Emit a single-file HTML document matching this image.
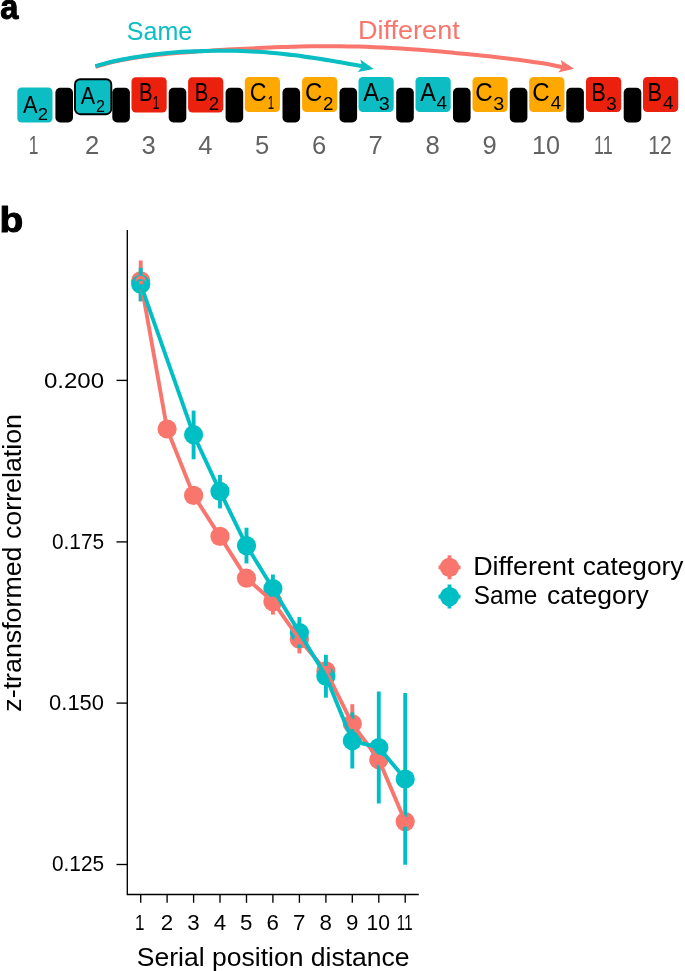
<!DOCTYPE html>
<html lang="en"><head><meta charset="utf-8"><title>Figure</title>
<style>html,body{margin:0;padding:0;background:#fff}svg{display:block}text{font-family:"Liberation Sans",sans-serif}</style>
</head><body>
<svg width="685" height="971" viewBox="0 0 685 971">
<rect x="0" y="0" width="685" height="971" fill="#ffffff"/>
<text x="0.22" y="18.85" font-size="35.5" font-weight="bold" fill="#000" textLength="18.19" lengthAdjust="spacingAndGlyphs" stroke="#000" stroke-width="1" stroke-linejoin="round">a</text>
<path d="M95.6 66.8 C97.6 66.2 103.6 64.3 107.6 63.3 C111.6 62.2 115.6 61.3 119.6 60.5 C123.6 59.6 127.6 58.9 131.6 58.2 C135.5 57.6 139.5 57.0 143.5 56.5 C147.5 55.9 151.5 55.5 155.5 55.0 C159.5 54.6 163.5 54.2 167.5 53.8 C171.5 53.5 175.5 53.1 179.5 52.8 C183.5 52.5 187.5 52.2 191.5 51.9 C195.5 51.6 199.5 51.3 203.5 51.1 C207.5 50.8 211.5 50.6 215.4 50.3 C219.4 50.1 223.4 49.9 227.4 49.6 C231.4 49.4 235.4 49.2 239.4 49.0 C243.4 48.8 247.4 48.6 251.4 48.4 C255.4 48.2 259.4 48.0 263.4 47.8 C267.4 47.6 271.4 47.5 275.4 47.3 C279.4 47.2 283.4 47.0 287.4 46.9 C291.3 46.8 295.3 46.7 299.3 46.6 C303.3 46.5 307.3 46.4 311.3 46.3 C315.3 46.3 319.3 46.2 323.3 46.2 C327.3 46.2 331.3 46.2 335.3 46.2 C339.3 46.3 343.3 46.3 347.3 46.4 C351.3 46.4 355.3 46.5 359.3 46.6 C363.3 46.7 367.3 46.9 371.2 47.0 C375.2 47.2 379.2 47.4 383.2 47.5 C387.2 47.7 391.2 47.9 395.2 48.2 C399.2 48.4 403.2 48.7 407.2 48.9 C411.2 49.2 415.2 49.5 419.2 49.8 C423.2 50.1 427.2 50.4 431.2 50.7 C435.2 51.1 439.2 51.4 443.2 51.8 C447.1 52.1 451.1 52.5 455.1 52.9 C459.1 53.2 463.1 53.6 467.1 54.0 C471.1 54.4 475.1 54.8 479.1 55.3 C483.1 55.7 487.1 56.1 491.1 56.6 C495.1 57.0 499.1 57.5 503.1 57.9 C507.1 58.4 511.1 58.9 515.1 59.4 C519.1 59.9 523.1 60.5 527.0 61.0 C531.0 61.6 535.0 62.2 539.0 62.8 C543.0 63.4 547.0 64.1 551.0 64.8 C555.0 65.6 561.0 66.8 563.0 67.2" fill="none" stroke="#F8766D" stroke-width="4.0"/>
<path d="M574.2 68.8 L558.1 72.4 L562.6 66.9 L560.7 59.9 Z" fill="#F8766D"/>
<path d="M95.3 66.1 C97.2 65.6 103.0 63.9 106.9 62.9 C110.8 62.0 114.7 61.1 118.5 60.3 C122.4 59.5 126.3 58.7 130.2 58.0 C134.0 57.4 137.9 56.7 141.8 56.2 C145.6 55.6 149.5 55.1 153.4 54.6 C157.3 54.1 161.1 53.7 165.0 53.3 C168.9 53.0 172.7 52.6 176.6 52.3 C180.5 52.0 184.4 51.8 188.2 51.6 C192.1 51.4 196.0 51.2 199.9 51.1 C203.7 50.9 207.6 50.8 211.5 50.8 C215.3 50.7 219.2 50.7 223.1 50.7 C227.0 50.7 230.8 50.7 234.7 50.8 C238.6 50.9 242.5 51.0 246.3 51.2 C250.2 51.4 254.1 51.6 257.9 51.8 C261.8 52.1 265.7 52.3 269.6 52.7 C273.4 53.0 277.3 53.3 281.2 53.7 C285.1 54.1 288.9 54.6 292.8 55.0 C296.7 55.5 300.5 56.0 304.4 56.6 C308.3 57.1 312.2 57.7 316.0 58.3 C319.9 58.9 323.8 59.5 327.6 60.1 C331.5 60.8 335.4 61.5 339.3 62.1 C343.1 62.8 347.0 63.5 350.9 64.2 C354.8 64.9 360.6 66.0 362.5 66.3" fill="none" stroke="#0BBEC3" stroke-width="4.1"/>
<path d="M373.8 69.1 L357.8 72.0 L362.2 66.6 L360.3 59.5 Z" fill="#0BBEC3"/>
<text x="126.77" y="39.90" font-size="25" fill="#0BBEC3" textLength="65.49" lengthAdjust="spacingAndGlyphs">Same</text>
<text x="358.04" y="38.90" font-size="25" fill="#F8766D" textLength="101.63" lengthAdjust="spacingAndGlyphs">Different</text>
<rect x="17.3" y="87.4" width="35.2" height="35.2" rx="4.3" fill="#0CBEC4"/>
<text x="23.10" y="113.10" font-size="24.4" fill="#000" textLength="14.54" lengthAdjust="spacingAndGlyphs">A</text>
<text x="37.88" y="120.40" font-size="17.4" fill="#000" textLength="10.27" lengthAdjust="spacingAndGlyphs">2</text>
<text x="28.69" y="154.20" font-size="25.6" fill="#626262" textLength="9.72" lengthAdjust="spacingAndGlyphs">1</text>
<rect x="75.0" y="79.2" width="36.3" height="35.0" rx="5.2" fill="#0CBEC4" stroke="#000" stroke-width="1.9"/>
<text x="80.80" y="103.90" font-size="24.4" fill="#000" textLength="14.34" lengthAdjust="spacingAndGlyphs">A</text>
<text x="96.00" y="112.00" font-size="17.4" fill="#000" textLength="8.92" lengthAdjust="spacingAndGlyphs">2</text>
<text x="85.05" y="154.20" font-size="25.6" fill="#626262">2</text>
<rect x="131.5" y="77.2" width="35.2" height="35.2" rx="4.3" fill="#EB210E"/>
<text x="138.97" y="101.30" font-size="25.2" fill="#000" textLength="13.59" lengthAdjust="spacingAndGlyphs">B</text>
<text x="152.70" y="109.40" font-size="18.0" fill="#000" textLength="6.65" lengthAdjust="spacingAndGlyphs">1</text>
<text x="141.60" y="154.20" font-size="25.6" fill="#626262">3</text>
<rect x="188.1" y="77.2" width="35.2" height="35.2" rx="4.3" fill="#EB210E"/>
<text x="194.87" y="101.30" font-size="25.2" fill="#000" textLength="13.59" lengthAdjust="spacingAndGlyphs">B</text>
<text x="208.67" y="109.60" font-size="18.0" fill="#000" textLength="10.39" lengthAdjust="spacingAndGlyphs">2</text>
<text x="198.26" y="154.20" font-size="25.6" fill="#626262">4</text>
<rect x="244.8" y="76.9" width="35.2" height="35.2" rx="4.3" fill="#FFA800"/>
<text x="249.64" y="101.30" font-size="25.2" fill="#000" textLength="16.72" lengthAdjust="spacingAndGlyphs">C</text>
<text x="267.64" y="109.40" font-size="18.0" fill="#000" textLength="6.39" lengthAdjust="spacingAndGlyphs">1</text>
<text x="254.90" y="154.20" font-size="25.6" fill="#626262">5</text>
<rect x="302.1" y="76.9" width="35.2" height="35.2" rx="4.3" fill="#FFA800"/>
<text x="305.10" y="101.30" font-size="25.2" fill="#000" textLength="17.29" lengthAdjust="spacingAndGlyphs">C</text>
<text x="322.97" y="109.60" font-size="18.0" fill="#000" textLength="10.39" lengthAdjust="spacingAndGlyphs">2</text>
<text x="312.07" y="154.20" font-size="25.6" fill="#626262">6</text>
<rect x="358.5" y="76.9" width="35.2" height="35.2" rx="4.3" fill="#0CBEC4"/>
<text x="363.20" y="101.30" font-size="25.2" fill="#000" textLength="15.75" lengthAdjust="spacingAndGlyphs">A</text>
<text x="378.81" y="109.60" font-size="18.0" fill="#000" textLength="11.01" lengthAdjust="spacingAndGlyphs">3</text>
<text x="368.60" y="154.20" font-size="25.6" fill="#626262">7</text>
<rect x="415.5" y="76.9" width="35.2" height="35.2" rx="4.3" fill="#0CBEC4"/>
<text x="420.30" y="101.30" font-size="25.2" fill="#000" textLength="15.55" lengthAdjust="spacingAndGlyphs">A</text>
<text x="436.42" y="109.40" font-size="18.0" fill="#000" textLength="10.47" lengthAdjust="spacingAndGlyphs">4</text>
<text x="425.60" y="154.20" font-size="25.6" fill="#626262">8</text>
<rect x="472.5" y="76.9" width="35.2" height="35.2" rx="4.3" fill="#FFA800"/>
<text x="475.20" y="101.30" font-size="25.2" fill="#000" textLength="17.40" lengthAdjust="spacingAndGlyphs">C</text>
<text x="493.31" y="109.60" font-size="18.0" fill="#000" textLength="11.01" lengthAdjust="spacingAndGlyphs">3</text>
<text x="482.60" y="154.20" font-size="25.6" fill="#626262">9</text>
<rect x="529.2" y="76.9" width="35.2" height="35.2" rx="4.3" fill="#FFA800"/>
<text x="532.20" y="101.30" font-size="25.2" fill="#000" textLength="17.40" lengthAdjust="spacingAndGlyphs">C</text>
<text x="550.72" y="109.40" font-size="18.0" fill="#000" textLength="10.47" lengthAdjust="spacingAndGlyphs">4</text>
<text x="532.01" y="154.20" font-size="25.6" fill="#626262" textLength="28.03" lengthAdjust="spacingAndGlyphs">10</text>
<rect x="586.0" y="76.9" width="35.2" height="35.2" rx="4.3" fill="#EB210E"/>
<text x="591.25" y="101.30" font-size="25.2" fill="#000" textLength="14.59" lengthAdjust="spacingAndGlyphs">B</text>
<text x="606.03" y="109.60" font-size="18.0" fill="#000" textLength="10.77" lengthAdjust="spacingAndGlyphs">3</text>
<text x="594.06" y="154.20" font-size="25.6" fill="#626262" textLength="18.61" lengthAdjust="spacingAndGlyphs">11</text>
<rect x="643.0" y="76.9" width="35.2" height="35.2" rx="4.3" fill="#EB210E"/>
<text x="647.45" y="101.30" font-size="25.2" fill="#000" textLength="14.59" lengthAdjust="spacingAndGlyphs">B</text>
<text x="662.92" y="109.40" font-size="18.0" fill="#000" textLength="10.58" lengthAdjust="spacingAndGlyphs">4</text>
<text x="648.22" y="154.20" font-size="25.6" fill="#626262" textLength="23.49" lengthAdjust="spacingAndGlyphs">12</text>
<rect x="55.4" y="87.8" width="17.6" height="34.7" rx="4.8" fill="#000"/>
<rect x="112.3" y="87.8" width="17.6" height="34.7" rx="4.8" fill="#000"/>
<rect x="168.7" y="87.8" width="17.6" height="34.7" rx="4.8" fill="#000"/>
<rect x="225.6" y="87.8" width="17.6" height="34.7" rx="4.8" fill="#000"/>
<rect x="282.5" y="87.8" width="17.6" height="34.7" rx="4.8" fill="#000"/>
<rect x="339.5" y="87.8" width="17.6" height="34.7" rx="4.8" fill="#000"/>
<rect x="396.2" y="87.8" width="17.6" height="34.7" rx="4.8" fill="#000"/>
<rect x="453.0" y="87.8" width="17.6" height="34.7" rx="4.8" fill="#000"/>
<rect x="509.8" y="87.8" width="17.6" height="34.7" rx="4.8" fill="#000"/>
<rect x="566.3" y="87.8" width="17.6" height="34.7" rx="4.8" fill="#000"/>
<rect x="623.7" y="87.8" width="17.6" height="34.7" rx="4.8" fill="#000"/>
<text x="-0.54" y="231.95" font-size="34.9" font-weight="bold" fill="#000" textLength="23.83" lengthAdjust="spacingAndGlyphs" stroke="#000" stroke-width="1" stroke-linejoin="round">b</text>
<path d="M127.3 230 V894.5 H418.8" fill="none" stroke="#000" stroke-width="1.35"/>
<path d="M116.5 380.4 H127.3" stroke="#000" stroke-width="1.35"/>
<text x="43.94" y="387.60" font-size="22.3" fill="#000" textLength="60.16" lengthAdjust="spacingAndGlyphs">0.200</text>
<path d="M116.5 541.9 H127.3" stroke="#000" stroke-width="1.35"/>
<text x="51.97" y="548.60" font-size="22.3" fill="#000" textLength="52.12" lengthAdjust="spacingAndGlyphs">0.175</text>
<path d="M116.5 703.1 H127.3" stroke="#000" stroke-width="1.35"/>
<text x="49.12" y="709.60" font-size="22.3" fill="#000" textLength="54.90" lengthAdjust="spacingAndGlyphs">0.150</text>
<path d="M116.5 864.5 H127.3" stroke="#000" stroke-width="1.35"/>
<text x="51.97" y="871.10" font-size="22.3" fill="#000" textLength="52.12" lengthAdjust="spacingAndGlyphs">0.125</text>
<path d="M140.7 894.5 V902.8" stroke="#000" stroke-width="1.35"/>
<text x="135.12" y="929.80" font-size="22.3" fill="#000" textLength="9.46" lengthAdjust="spacingAndGlyphs">1</text>
<path d="M167.1 894.5 V902.8" stroke="#000" stroke-width="1.35"/>
<text x="160.76" y="929.80" font-size="22.3" fill="#000">2</text>
<path d="M193.6 894.5 V902.8" stroke="#000" stroke-width="1.35"/>
<text x="187.21" y="929.80" font-size="22.3" fill="#000">3</text>
<path d="M220.0 894.5 V902.8" stroke="#000" stroke-width="1.35"/>
<text x="213.72" y="929.80" font-size="22.3" fill="#000">4</text>
<path d="M246.5 894.5 V902.8" stroke="#000" stroke-width="1.35"/>
<text x="240.11" y="929.80" font-size="22.3" fill="#000">5</text>
<path d="M272.9 894.5 V902.8" stroke="#000" stroke-width="1.35"/>
<text x="266.45" y="929.80" font-size="22.3" fill="#000">6</text>
<path d="M299.4 894.5 V902.8" stroke="#000" stroke-width="1.35"/>
<text x="293.01" y="929.80" font-size="22.3" fill="#000">7</text>
<path d="M325.9 894.5 V902.8" stroke="#000" stroke-width="1.35"/>
<text x="319.46" y="929.80" font-size="22.3" fill="#000">8</text>
<path d="M352.3 894.5 V902.8" stroke="#000" stroke-width="1.35"/>
<text x="345.91" y="929.80" font-size="22.3" fill="#000">9</text>
<path d="M378.8 894.5 V902.8" stroke="#000" stroke-width="1.35"/>
<text x="366.52" y="929.80" font-size="22.3" fill="#000" textLength="23.47" lengthAdjust="spacingAndGlyphs">10</text>
<path d="M405.2 894.5 V902.8" stroke="#000" stroke-width="1.35"/>
<text x="396.87" y="929.80" font-size="22.3" fill="#000" textLength="15.66" lengthAdjust="spacingAndGlyphs">11</text>
<text x="136.81" y="966.20" font-size="25.5" fill="#000" textLength="272.83" lengthAdjust="spacingAndGlyphs">Serial position distance</text>
<text transform="translate(21.4 711.67) rotate(-90)" font-size="25.5" fill="#000" textLength="297.63" lengthAdjust="spacingAndGlyphs">z-transformed correlation</text>
<path d="M140.7 260.5 V301.1" stroke="#F8766D" stroke-width="3.9"/>
<circle cx="140.7" cy="280.8" r="9.6" fill="#F8766D"/>
<path d="M167.1 424.0 V434.0" stroke="#F8766D" stroke-width="3.9"/>
<circle cx="167.1" cy="429.0" r="9.6" fill="#F8766D"/>
<path d="M193.6 490.0 V501.0" stroke="#F8766D" stroke-width="3.9"/>
<circle cx="193.6" cy="495.4" r="9.6" fill="#F8766D"/>
<path d="M220.0 531.0 V542.0" stroke="#F8766D" stroke-width="3.9"/>
<circle cx="220.0" cy="536.4" r="9.6" fill="#F8766D"/>
<path d="M246.5 572.0 V584.0" stroke="#F8766D" stroke-width="3.9"/>
<circle cx="246.5" cy="578.2" r="9.6" fill="#F8766D"/>
<path d="M272.9 588.6 V614.6" stroke="#F8766D" stroke-width="3.9"/>
<circle cx="272.9" cy="601.6" r="9.6" fill="#F8766D"/>
<path d="M299.4 624.8 V653.4" stroke="#F8766D" stroke-width="3.9"/>
<circle cx="299.4" cy="639.2" r="9.6" fill="#F8766D"/>
<path d="M325.9 662.0 V680.0" stroke="#F8766D" stroke-width="3.9"/>
<circle cx="325.9" cy="670.9" r="9.6" fill="#F8766D"/>
<path d="M352.3 704.2 V743.4" stroke="#F8766D" stroke-width="3.9"/>
<circle cx="352.3" cy="723.8" r="9.6" fill="#F8766D"/>
<path d="M378.8 752.0 V768.0" stroke="#F8766D" stroke-width="3.9"/>
<circle cx="378.8" cy="759.7" r="9.6" fill="#F8766D"/>
<path d="M405.2 812.0 V830.0" stroke="#F8766D" stroke-width="3.9"/>
<circle cx="405.2" cy="821.6" r="9.6" fill="#F8766D"/>
<path d="M140.7 267.8 V301.4" stroke="#00BFC4" stroke-width="3.9"/>
<circle cx="140.7" cy="284.3" r="9.6" fill="#00BFC4"/>
<path d="M193.6 410.6 V459.3" stroke="#00BFC4" stroke-width="3.9"/>
<circle cx="193.6" cy="434.7" r="9.6" fill="#00BFC4"/>
<path d="M220.0 474.8 V508.4" stroke="#00BFC4" stroke-width="3.9"/>
<circle cx="220.0" cy="491.4" r="9.6" fill="#00BFC4"/>
<path d="M246.5 527.7 V563.4" stroke="#00BFC4" stroke-width="3.9"/>
<circle cx="246.5" cy="545.6" r="9.6" fill="#00BFC4"/>
<path d="M272.9 574.5 V603.0" stroke="#00BFC4" stroke-width="3.9"/>
<circle cx="272.9" cy="588.5" r="9.6" fill="#00BFC4"/>
<path d="M299.4 617.1 V648.0" stroke="#00BFC4" stroke-width="3.9"/>
<circle cx="299.4" cy="632.6" r="9.6" fill="#00BFC4"/>
<path d="M325.9 654.8 V697.7" stroke="#00BFC4" stroke-width="3.9"/>
<circle cx="325.9" cy="676.2" r="9.6" fill="#00BFC4"/>
<path d="M352.3 712.4 V768.5" stroke="#00BFC4" stroke-width="3.9"/>
<circle cx="352.3" cy="740.8" r="9.6" fill="#00BFC4"/>
<path d="M378.8 691.5 V803.5" stroke="#00BFC4" stroke-width="3.9"/>
<circle cx="378.8" cy="747.5" r="9.6" fill="#00BFC4"/>
<path d="M405.2 693.1 V864.7" stroke="#00BFC4" stroke-width="3.9"/>
<circle cx="405.2" cy="779.0" r="9.6" fill="#00BFC4"/>
<circle cx="140.7" cy="280.8" r="5.2" fill="#F8766D"/>
<circle cx="167.1" cy="429.0" r="5.2" fill="#F8766D"/>
<circle cx="193.6" cy="495.4" r="5.2" fill="#F8766D"/>
<circle cx="220.0" cy="536.4" r="5.2" fill="#F8766D"/>
<circle cx="246.5" cy="578.2" r="5.2" fill="#F8766D"/>
<circle cx="272.9" cy="601.6" r="5.2" fill="#F8766D"/>
<circle cx="299.4" cy="639.2" r="5.2" fill="#F8766D"/>
<circle cx="325.9" cy="670.9" r="5.2" fill="#F8766D"/>
<circle cx="352.3" cy="723.8" r="5.2" fill="#F8766D"/>
<circle cx="378.8" cy="759.7" r="5.2" fill="#F8766D"/>
<circle cx="405.2" cy="821.6" r="5.2" fill="#F8766D"/>
<circle cx="140.7" cy="284.3" r="5.2" fill="#00BFC4"/>
<circle cx="193.6" cy="434.7" r="5.2" fill="#00BFC4"/>
<circle cx="220.0" cy="491.4" r="5.2" fill="#00BFC4"/>
<circle cx="246.5" cy="545.6" r="5.2" fill="#00BFC4"/>
<circle cx="272.9" cy="588.5" r="5.2" fill="#00BFC4"/>
<circle cx="299.4" cy="632.6" r="5.2" fill="#00BFC4"/>
<circle cx="325.9" cy="676.2" r="5.2" fill="#00BFC4"/>
<circle cx="352.3" cy="740.8" r="5.2" fill="#00BFC4"/>
<circle cx="378.8" cy="747.5" r="5.2" fill="#00BFC4"/>
<circle cx="405.2" cy="779.0" r="5.2" fill="#00BFC4"/>
<path d="M140.7 280.8 L167.1 429.0 L193.6 495.4 L220.0 536.4 L246.5 578.2 L272.9 601.6 L299.4 639.2 L325.9 670.9 L352.3 723.8 L378.8 759.7 L405.2 821.6" fill="none" stroke="#F8766D" stroke-width="3.9" stroke-linejoin="round"/>
<path d="M140.7 284.3 L193.6 434.7 L220.0 491.4 L246.5 545.6 L272.9 588.5 L299.4 632.6 L325.9 676.2 L352.3 740.8 L378.8 747.5 L405.2 779.0" fill="none" stroke="#00BFC4" stroke-width="3.9" stroke-linejoin="round"/>
<path d="M449.5 555.3 V579.3" stroke="#F8766D" stroke-width="3.9"/>
<path d="M438.5 567.4 H460.5" stroke="#F8766D" stroke-width="3.9"/>
<circle cx="449.5" cy="567.4" r="9.6" fill="#F8766D"/>
<path d="M449.5 584.5 V608.5" stroke="#00BFC4" stroke-width="3.9"/>
<path d="M438.5 596.6 H460.5" stroke="#00BFC4" stroke-width="3.9"/>
<circle cx="449.5" cy="596.6" r="9.6" fill="#00BFC4"/>
<text y="575.0" font-size="25" fill="#000"><tspan x="473.15" textLength="101.22" lengthAdjust="spacingAndGlyphs">Different</tspan> <tspan x="582.75" textLength="100.66" lengthAdjust="spacingAndGlyphs">category</tspan></text>
<text y="604.1" font-size="25" fill="#000"><tspan x="473.70" textLength="63.63" lengthAdjust="spacingAndGlyphs">Same</tspan> <tspan x="547.14" textLength="101.57" lengthAdjust="spacingAndGlyphs">category</tspan></text>
</svg></body></html>
